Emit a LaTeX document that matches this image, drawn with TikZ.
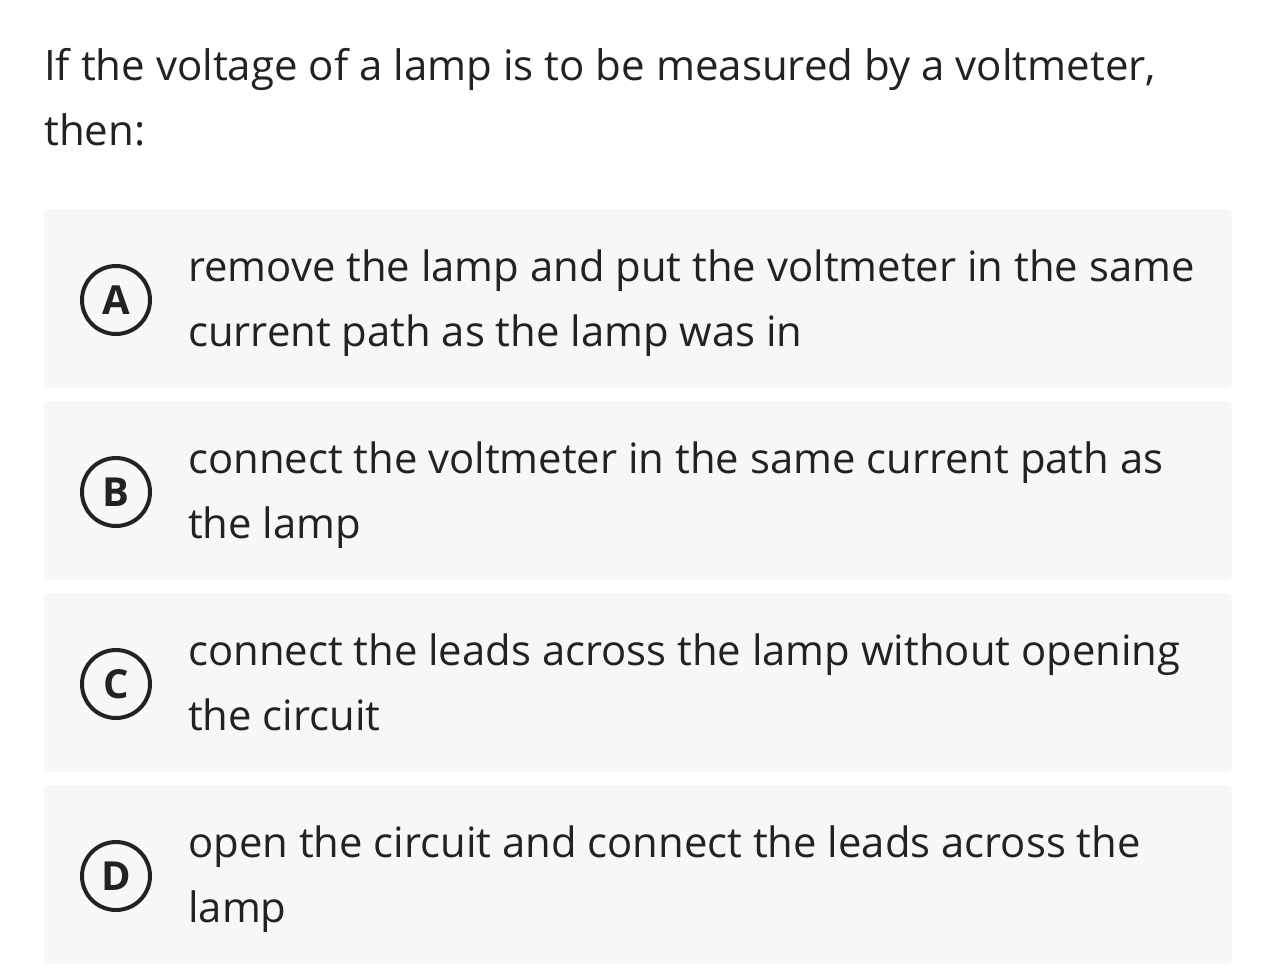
\documentclass[tikz,border=0pt]{standalone}
\usepackage{fontspec}
\setmainfont{Open Sans}
\definecolor{boxbg}{HTML}{F7F7F7}
\definecolor{txt}{HTML}{222222}
\tikzset{
 optbox/.style={fill=boxbg,draw=none,rounded corners=6pt},
 txtl/.style={anchor=base west,inner sep=0pt,text=txt,font=\fontsize{41.8}{46}\selectfont},
 ttl/.style={anchor=base west,inner sep=0pt,text=txt,font=\fontsize{42}{46}\selectfont},
 letter/.style={circle,draw=txt,line width=4pt,minimum size=68pt,inner sep=0pt,text=txt,font=\fontsize{40}{44}\selectfont\bfseries}
}
\begin{document}
\begin{tikzpicture}[x=1pt,y=-1pt]
\useasboundingbox[fill=white] (0,0) rectangle (1284,978);
\node[ttl] (t1) at (44,80) {If the voltage of a lamp is to be measured by a voltmeter,};
\node[ttl] (t2) at (44,145) {then:};
\foreach \n/\top/\L/\la/\lb in {
 a/209/A/remove the lamp and put the voltmeter in the same/current path as the lamp was in,
 b/401/B/connect the voltmeter in the same current path as/the lamp,
 c/593/C/connect the leads across the lamp without opening/the circuit,
 d/785/D/open the circuit and connect the leads across the/lamp}{
 \fill[optbox] (44,\top) rectangle (1232,\top+179);
 \node[letter] (c\n) at (116,\top+91) {\L};
 \node[txtl] (l1\n) at (188,\top+72) {\la};
 \node[txtl] (l2\n) at (188,\top+137) {\lb};
}
\end{tikzpicture}
\end{document}
